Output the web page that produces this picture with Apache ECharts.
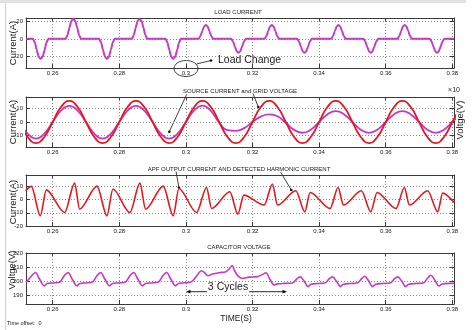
<!DOCTYPE html>
<html>
<head>
<meta charset="utf-8">
<script src="https://cdn.jsdelivr.net/npm/echarts@6/dist/echarts.min.js"></script>
<style>
  html, body { margin: 0; padding: 0; background: #ffffff; }
  #chart { width: 474px; height: 330px; }
</style>
</head>
<body>
<div id="chart"></div>
<script>
// ---- time axis ----
const timeTicks = [0.26, 0.28, 0.30, 0.32, 0.34, 0.36, 0.38];

// ---- panel 1: load current (A) ----
const loadTicks = [-20, 0, 20];
const loadCurrent = [
  [0.2520, 0],
  [0.2541, 0], [0.2547, -4.6], [0.2552, -12.6], [0.2558, -20.6], [0.2564, -22.9], [0.2570, -20.6], [0.2576, -12.6], [0.2581, -4.6], [0.2587, 0],
  [0.2639, 0], [0.2645, 4.6], [0.2650, 12.6], [0.2656, 20.6], [0.2662, 22.9], [0.2668, 20.6], [0.2674, 12.6], [0.2679, 4.6], [0.2685, 0],
  [0.2740, 0], [0.2746, -4.6], [0.2751, -12.6], [0.2757, -20.6], [0.2763, -22.9], [0.2769, -20.6], [0.2775, -12.6], [0.2780, -4.6], [0.2786, 0],
  [0.2838, 0], [0.2844, 4.6], [0.2849, 12.6], [0.2855, 20.6], [0.2861, 22.9], [0.2867, 20.6], [0.2873, 12.6], [0.2878, 4.6], [0.2884, 0],
  [0.2939, 0], [0.2945, -4.6], [0.2950, -12.6], [0.2956, -20.6], [0.2962, -22.9], [0.2968, -20.6], [0.2974, -12.6], [0.2979, -4.6], [0.2985, 0],
  [0.3038, 0], [0.3044, 3.2], [0.3049, 8.8], [0.3055, 14.4], [0.3060, 16], [0.3065, 14.4], [0.3071, 8.8], [0.3076, 3.2], [0.3082, 0],
  [0.3136, 0], [0.3142, -3.2], [0.3147, -8.8], [0.3153, -14.4], [0.3158, -16], [0.3163, -14.4], [0.3169, -8.8], [0.3174, -3.2], [0.3180, 0],
  [0.3236, 0], [0.3242, 3.2], [0.3247, 8.8], [0.3253, 14.4], [0.3258, 16], [0.3263, 14.4], [0.3269, 8.8], [0.3274, 3.2], [0.3280, 0],
  [0.3334, 0], [0.3340, -3.2], [0.3345, -8.8], [0.3351, -14.4], [0.3356, -16], [0.3361, -14.4], [0.3367, -8.8], [0.3372, -3.2], [0.3378, 0],
  [0.3436, 0], [0.3442, 3.2], [0.3447, 8.8], [0.3453, 14.4], [0.3458, 16], [0.3463, 14.4], [0.3469, 8.8], [0.3474, 3.2], [0.3480, 0],
  [0.3533, 0], [0.3539, -3.2], [0.3544, -8.8], [0.3550, -14.4], [0.3555, -16], [0.3560, -14.4], [0.3566, -8.8], [0.3571, -3.2], [0.3577, 0],
  [0.3635, 0], [0.3641, 3.2], [0.3646, 8.8], [0.3652, 14.4], [0.3657, 16], [0.3662, 14.4], [0.3668, 8.8], [0.3673, 3.2], [0.3679, 0],
  [0.3732, 0], [0.3738, -3.2], [0.3743, -8.8], [0.3749, -14.4], [0.3754, -16], [0.3759, -14.4], [0.3765, -8.8], [0.3770, -3.2], [0.3776, 0],
  [0.3805, 0]
];

// ---- panel 2: source current (A) and grid voltage (x10 V) ----
const srcTicks = [-10, 0, 10];
const sampleTimes = [
  0.2500, 0.2525, 0.2550, 0.2575, 0.2600, 0.2625, 0.2650, 0.2675,
  0.2700, 0.2725, 0.2750, 0.2775, 0.2800, 0.2825, 0.2850, 0.2875,
  0.2900, 0.2925, 0.2950, 0.2975, 0.3000, 0.3025, 0.3050, 0.3075,
  0.3100, 0.3125, 0.3150, 0.3175, 0.3200, 0.3225, 0.3250, 0.3275,
  0.3300, 0.3325, 0.3350, 0.3375, 0.3400, 0.3425, 0.3450, 0.3475,
  0.3500, 0.3525, 0.3550, 0.3575, 0.3600, 0.3625, 0.3650, 0.3675,
  0.3700, 0.3725, 0.3750, 0.3775, 0.3800, 0.3825
];
const sourceCurrent = [
  0, -8.5, -12.2, -8.5, 0, 8.4, 11.9, 8.4,
  0, -8.5, -12.2, -8.5, 0, 8.4, 11.9, 8.4,
  0, -8.5, -12.2, -8.5, 0, 8.5, 12.1, 8.2,
  -0.5, -6.0, -6.5, -4.5, 0, 4.0, 5.6, 4.2,
  -0.6, -5.8, -7.9, -5.7, 0, 5.6, 8.0, 5.6,
  0, -5.7, -8.0, -5.7, 0, 5.6, 8.0, 5.6,
  0, -5.7, -8.0, -5.7, 0, 5.6
];
const gridVoltage = [
  0, -11, -15.5, -11, 0, 11, 15.5, 11,
  0, -11, -15.5, -11, 0, 11, 15.5, 11,
  0, -11, -15.5, -11, 0, 11, 15.5, 11,
  0, -11, -15.5, -11, 0, 11, 15.5, 11,
  0, -11, -15.5, -11, 0, 11, 15.5, 11,
  0, -11, -15.5, -11, 0, 11, 15.5, 11,
  0, -11, -15.5, -11, 0, 11
];

// ---- panel 3: APF output current (A) ----
const apfTicks = [-20, -10, 0, 10];
const apfCurrent = [
  [0.2519, 6.6], [0.2536, 9.9], [0.2563, -12.3], [0.2581, 7.3], [0.2636, -9.8],
  [0.2666, 12.4], [0.2681, -7.3], [0.2733, 10.1], [0.2763, -12.3], [0.2781, 7.9],
  [0.2832, -9.8], [0.2862, 12.4], [0.2879, -7.3], [0.2932, 10.1], [0.2962, -12.3],
  [0.2979, 8.3], [0.3032, -9.8], [0.3062, 9.1], [0.3077, -6.8], [0.3132, 5.8],
  [0.3156, -11.0], [0.3174, 3.3], [0.3235, -4.2], [0.3260, 11.7], [0.3275, -4.2],
  [0.3330, 6.6], [0.3357, -9.3], [0.3373, 5.3], [0.3433, -6.8], [0.3457, 9.1],
  [0.3473, -4.2], [0.3527, 6.6], [0.3555, -9.3], [0.3574, 5.3], [0.3631, -6.8],
  [0.3656, 9.1], [0.3671, -4.2], [0.3726, 6.6], [0.3756, -9.3], [0.3771, 4.8],
  [0.3805, -2.3]
];

// ---- panel 4: DC capacitor voltage (V) ----
const capTicks = [190, 200, 210, 220];
const capVoltage = [
  [0.2520, 199.0], [0.2536, 203.5], [0.2548, 206.1], [0.2561, 201.3], [0.2575, 196.6], [0.2584, 198.3], [0.2603, 198.7],
  [0.2621, 199.3], [0.2634, 203.5], [0.2646, 206.1], [0.2659, 201.3], [0.2673, 196.6], [0.2682, 198.3], [0.2701, 198.7],
  [0.2719, 199.3], [0.2732, 203.5], [0.2744, 206.1], [0.2757, 201.3], [0.2771, 196.6], [0.2780, 198.3], [0.2799, 198.7],
  [0.2818, 199.3], [0.2831, 203.5], [0.2843, 206.1], [0.2856, 201.3], [0.2870, 196.6], [0.2879, 198.3], [0.2898, 198.7],
  [0.2917, 199.3], [0.2930, 203.5], [0.2942, 206.1], [0.2955, 201.3], [0.2969, 196.6], [0.2978, 198.3], [0.2997, 198.8],
  [0.3017, 199.6], [0.3034, 204.2], [0.3047, 207.4], [0.3056, 206.0], [0.3066, 203.8], [0.3080, 205.0], [0.3100, 206.0],
  [0.3120, 206.7], [0.3131, 209.0], [0.3139, 211.0], [0.3146, 207.5], [0.3157, 203.5], [0.3169, 202.0], [0.3190, 202.8],
  [0.3215, 203.2], [0.3231, 204.8], [0.3240, 205.9], [0.3252, 201.5], [0.3265, 197.2], [0.3274, 198.0], [0.3298, 198.4],
  [0.3320, 198.6], [0.3333, 201.5], [0.3343, 203.0], [0.3355, 200.0], [0.3367, 196.1], [0.3376, 197.8], [0.3398, 198.3],
  [0.3417, 198.6], [0.3430, 201.5], [0.3440, 203.0], [0.3452, 200.0], [0.3464, 196.1], [0.3473, 197.8], [0.3495, 198.3],
  [0.3514, 198.6], [0.3527, 201.6], [0.3537, 203.4], [0.3549, 200.0], [0.3561, 196.1], [0.3570, 197.8], [0.3592, 198.3],
  [0.3613, 198.6], [0.3626, 201.5], [0.3636, 203.0], [0.3648, 200.0], [0.3660, 196.1], [0.3669, 197.8], [0.3691, 198.3],
  [0.3713, 198.7], [0.3726, 202.2], [0.3736, 204.2], [0.3748, 200.5], [0.3760, 196.5], [0.3769, 197.9], [0.3790, 198.4],
  [0.3805, 198.4]
];

// ---- layout and styling ----
const FONT = '"Liberation Sans", Arial, sans-serif';
const MAGENTA = '#c936c9';
const RED = '#e8161c';
const AXIS = '#3a3a3a';
const T_MIN = 0.252, T_MAX = 0.3805;

const panels = [
  { top: 18,  height: 50, min: -33.5, max: 24,   ticks: loadTicks },
  { top: 97,  height: 50, min: -18.4, max: 18.4, ticks: srcTicks },
  { top: 175, height: 51, min: -20,   max: 18.5, ticks: apfTicks },
  { top: 253, height: 51, min: 183.7, max: 220,  ticks: capTicks }
];

const grids = [], xAxes = [], yAxes = [];
const axisLine = { show: true, onZero: false, lineStyle: { color: AXIS, width: 1 } };
const dotted = { show: true, lineStyle: { color: '#8a8a8a', width: 1, type: [1, 2] } };

panels.forEach((p, i) => {
  grids.push({ left: 26, width: 428, top: p.top, height: p.height, show: false });
  // bottom time axis with labels
  xAxes.push({
    gridIndex: i, type: 'value', min: T_MIN, max: T_MAX, position: 'bottom',
    axisLine,
    axisTick: { show: true, inside: true, length: 4, customValues: timeTicks, lineStyle: { color: AXIS } },
    axisLabel: {
      show: true, customValues: timeTicks, fontSize: 6, margin: 2, color: '#222', fontFamily: FONT,
      formatter: v => String(parseFloat(Number(v).toFixed(2)))
    },
    splitLine: dotted
  });
  // top frame edge
  xAxes.push({
    gridIndex: i, type: 'value', min: T_MIN, max: T_MAX, position: 'top',
    axisLine,
    axisTick: { show: true, inside: true, length: 3, customValues: timeTicks, lineStyle: { color: AXIS } },
    axisLabel: { show: false },
    splitLine: { show: false }
  });
  // left value axis with labels
  yAxes.push({
    gridIndex: i, type: 'value', min: p.min, max: p.max, position: 'left',
    axisLine,
    axisTick: { show: true, inside: true, length: 4, customValues: p.ticks, lineStyle: { color: AXIS } },
    axisLabel: { show: true, customValues: p.ticks, fontSize: 6, margin: 3, color: '#222', fontFamily: FONT },
    splitLine: dotted
  });
  // right frame edge
  yAxes.push({
    gridIndex: i, type: 'value', min: p.min, max: p.max, position: 'right',
    axisLine,
    axisTick: { show: true, inside: true, length: 4, customValues: p.ticks, lineStyle: { color: AXIS } },
    axisLabel: { show: false },
    splitLine: { show: false }
  });
});

function lineSeries(panel, data, color, width, smooth, monotone) {
  const s = {
    type: 'line', xAxisIndex: panel * 2, yAxisIndex: panel * 2, data,
    showSymbol: false, symbol: 'none', smooth, clip: true, animation: false,
    lineStyle: { color, width }, emphasis: { disabled: true }
  };
  if (monotone) s.smoothMonotone = monotone;
  return s;
}

const series = [
  lineSeries(0, loadCurrent, MAGENTA, 2, 0.2, 'x'),
  lineSeries(1, sampleTimes.map((t, k) => [t, sourceCurrent[k]]), MAGENTA, 1.8, 0.5),
  lineSeries(1, sampleTimes.map((t, k) => [t, gridVoltage[k]]), RED, 1.8, 0.5),
  lineSeries(2, apfCurrent, RED, 1.6, 0.3, 'x'),
  lineSeries(3, capVoltage, MAGENTA, 1.6, 0.35)
];

function txt(x, y, text, size, opts) {
  return Object.assign({
    type: 'text', x, y, silent: true,
    style: Object.assign({ text, fontSize: size, fontFamily: FONT, fill: '#1a1a1a', textAlign: 'center', textVerticalAlign: 'middle' }, (opts && opts.style) || {})
  }, opts && opts.rotation ? { rotation: opts.rotation } : {});
}
function seg(x1, y1, x2, y2, w) {
  return { type: 'line', silent: true, shape: { x1, y1, x2, y2 }, style: { stroke: '#111', lineWidth: w || 0.8 } };
}
function dot(cx, cy) {
  return { type: 'circle', silent: true, shape: { cx, cy, r: 1.3 }, style: { fill: '#111' } };
}
const ROT = Math.PI / 2;

const graphic = [
  // window frame strokes
  { type: 'rect', silent: true, shape: { x: 0, y: 0, width: 466, height: 3 }, style: { fill: '#e2e2e2' } },
  { type: 'rect', silent: true, shape: { x: 5, y: 3, width: 1.2, height: 327 }, style: { fill: '#cdd6e2' } },
  // panel titles
  txt(238, 12, 'LOAD CURRENT', 6),
  txt(240, 91, 'SOURCE CURRENT and GRID VOLTAGE', 6),
  txt(239, 169, 'APF OUTPUT CURRENT AND DETECTED HARMONIC CURRENT', 6),
  txt(239, 247, 'CAPACITOR VOLTAGE', 6),
  // axis names
  txt(13, 43, 'Current(A)', 9.5, { rotation: ROT }),
  txt(13, 122, 'Current(A)', 9.5, { rotation: ROT }),
  txt(13, 202, 'Current(A)', 9.5, { rotation: ROT }),
  txt(12, 270, 'Voltge(V)', 9.5, { rotation: ROT }),
  txt(460, 120, 'Voltge(V)', 9.5, { rotation: ROT }),
  txt(454, 90, '\u00d710', 7),
  txt(236, 319, 'TIME(S)', 8.5),
  txt(7, 323, 'Time offset:  0', 5.5, { style: { textAlign: 'left' } }),
  // load change callout
  { type: 'ellipse', silent: true, shape: { cx: 186, cy: 68.5, rx: 12, ry: 8 }, style: { fill: 'none', stroke: '#111', lineWidth: 0.8 } },
  seg(196.5, 64, 211, 60.5), dot(211, 60.5),
  txt(218, 60, 'Load Change', 10.5, { style: { textAlign: 'left' } }),
  // panel 2 pointers
  seg(186.7, 94.3, 169.3, 131.7), dot(169.3, 131.7),
  seg(253, 93.5, 258.3, 107), dot(258.3, 107),
  // panel 3 pointers
  seg(176, 171.5, 179, 187.7), dot(179, 187.7),
  seg(280.7, 172.3, 291.3, 190), dot(291.3, 190),
  // three-cycle span marker
  seg(188, 291.7, 285, 291.7, 0.9),
  { type: 'polygon', silent: true, shape: { points: [[186, 291.7], [190.5, 289.8], [190.5, 293.6]] }, style: { fill: '#111' } },
  { type: 'polygon', silent: true, shape: { points: [[287, 291.7], [282.5, 289.8], [282.5, 293.6]] }, style: { fill: '#111' } },
  txt(228, 287.5, '3 Cycles', 10.5, { style: { backgroundColor: '#fff', padding: [0, 1] } })
];

const chart = echarts.init(document.getElementById('chart'), null, { renderer: 'canvas' });
chart.setOption({
  backgroundColor: '#ffffff',
  animation: false,
  grid: grids,
  xAxis: xAxes,
  yAxis: yAxes,
  series,
  graphic
});
</script>
</body>
</html>
